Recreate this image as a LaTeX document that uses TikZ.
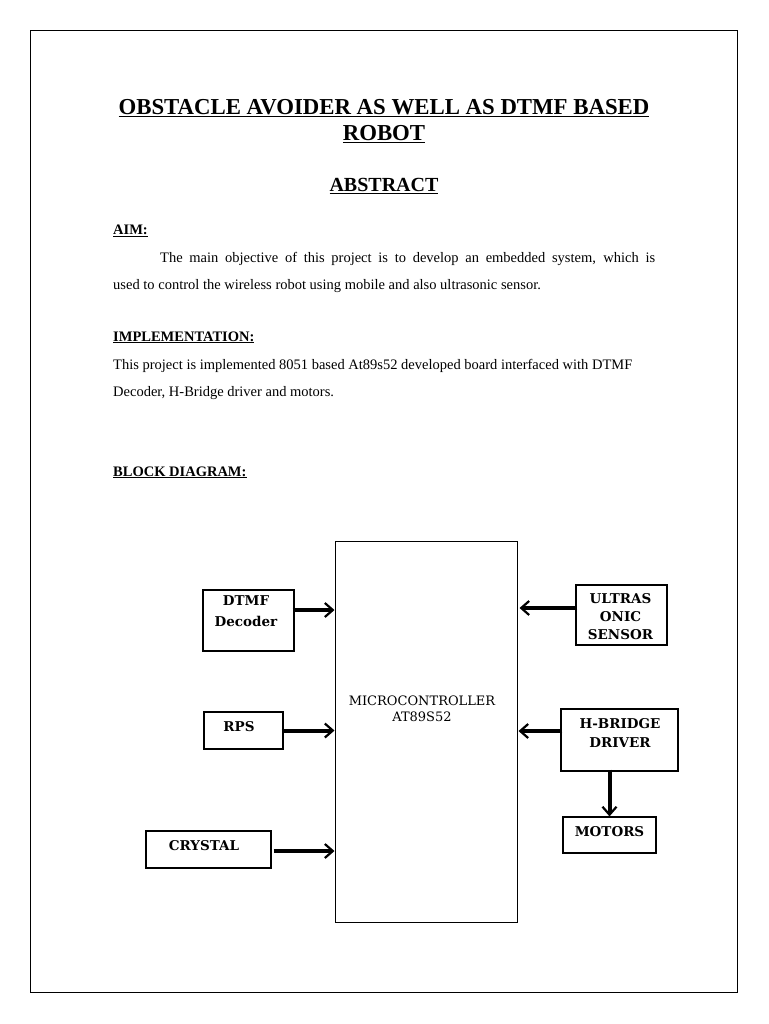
\documentclass[tikz,border=0pt]{standalone}
\usepackage{fontspec}
\setmainfont{Liberation Serif}
\newfontfamily\blockfont{DejaVu Serif}
\usetikzlibrary{arrows.meta}

\begin{document}
\begin{tikzpicture}[x=1pt, y=-1pt,
  box/.style={draw, line width=1.2pt, inner sep=0pt},
  boxtext/.style={inner sep=0pt, align=center, font=\blockfont\bfseries\fontsize{13.5}{19}\selectfont},
  wire/.style={line width=4pt, -{Straight Barb[length=8pt, width=14pt, line width=2.2pt]}},
  heading/.style={anchor=base west, inner sep=0pt, font=\bfseries\fontsize{14.5}{17}\selectfont},
  body/.style={anchor=base west, inner sep=0pt, font=\fontsize{14.5}{17}\selectfont}]
\useasboundingbox (0,0) rectangle (768,1024);
\draw[line width=1pt] (30,31) rectangle (737,992);

% title and text
\node[inner sep=0pt, align=center, font=\bfseries\fontsize{22.8}{26}\selectfont] (title) at (384,121)
  {\underline{OBSTACLE AVOIDER AS WELL AS DTMF BASED}\\\underline{ROBOT}};
\node[inner sep=0pt, font=\bfseries\fontsize{20}{24}\selectfont] (abstract) at (384,186) {\underline{ABSTRACT}};
\node[heading] (aim) at (113,235) {\underline{AIM:}};
\node[body] (aimA) at (160,262) {\makebox[495pt][s]{The main objective of this project is to develop an embedded system, which is}};
\node[body] (aimB) at (113,289) {used to control the wireless robot using mobile and also ultrasonic sensor.};
\node[heading] (impl) at (113,341) {\underline{IMPLEMENTATION:}};
\node[body] (implA) at (113,369) {This project is implemented 8051 based At89s52 developed board interfaced with DTMF};
\node[body] (implB) at (113,396) {Decoder, H-Bridge driver and motors.};
\node[heading] (block) at (113,476) {\underline{BLOCK DIAGRAM:}};

% blocks
\node[box, line width=1pt, minimum width=182pt, minimum height=381pt] (mcu) at (426,731.5) {};
\node[box, minimum width=91pt, minimum height=61pt] (dtmf) at (248.5,620.5) {};
\node[box, minimum width=79pt, minimum height=37pt] (rps) at (243.5,730.5) {};
\node[box, minimum width=125pt, minimum height=37pt] (crystal) at (208.5,849.5) {};
\node[box, minimum width=91pt, minimum height=60pt] (ultra) at (621.5,615) {};
\node[box, minimum width=117pt, minimum height=62pt] (hbridge) at (619.5,740) {};
\node[box, minimum width=93pt, minimum height=36pt] (motors) at (609.5,835) {};

% block labels
\node[inner sep=0pt, align=center, font=\blockfont\fontsize{13}{16}\selectfont] (mcutext) at (422,709) {MICROCONTROLLER\\AT89S52};
\node[boxtext, font=\blockfont\bfseries\fontsize{13.5}{21}\selectfont] (dtmftext) at (246,611.5) {DTMF\\Decoder};
\node[boxtext] (rpstext) at (239,727) {RPS};
\node[boxtext] (crystaltext) at (204,846) {CRYSTAL};
\node[boxtext, font=\blockfont\bfseries\fontsize{13.5}{18}\selectfont] (ultratext) at (620.5,617) {ULTRAS\\ONIC\\SENSOR};
\node[boxtext] (hbridgetext) at (620,733) {H-BRIDGE\\DRIVER};
\node[boxtext] (motorstext) at (609.5,832) {MOTORS};

% connectors
\draw[wire] ([xshift=-2pt, yshift=10.5pt]dtmf.east) -- ([yshift=10.5pt]dtmf.east -| mcu.west);
\draw[wire] ([xshift=-2pt]rps.east) -- (rps.east -| mcu.west);
\draw[wire] ([xshift=2pt, yshift=-1.5pt]crystal.east) -- ([yshift=-1.5pt]crystal.east -| mcu.west);
\draw[wire] ([xshift=2pt, yshift=7pt]ultra.west) -- ([xshift=2pt, yshift=7pt]ultra.west -| mcu.east);
\draw[wire] ([xshift=2pt, yshift=9pt]hbridge.west) -- ([xshift=1pt, yshift=9pt]hbridge.west -| mcu.east);
\draw[wire] ([yshift=2pt]motors.north |- hbridge.south) -- (motors.north);
\end{tikzpicture}
\end{document}
